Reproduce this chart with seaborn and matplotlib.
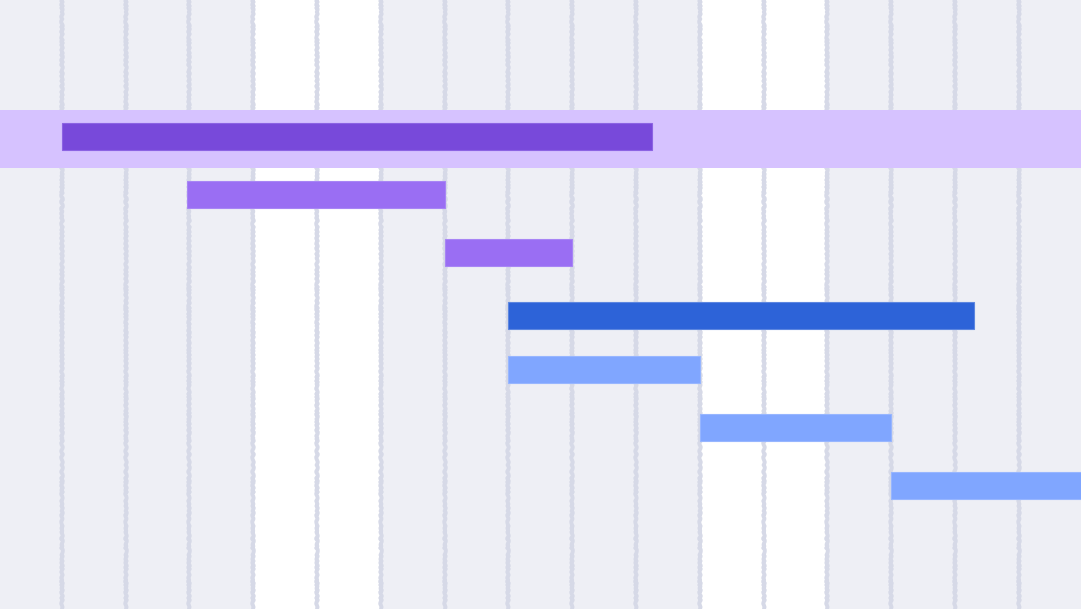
import pandas as pd
import matplotlib.pyplot as plt
import seaborn as sns

# Task data (day units, day 0 = first grid line)
TASKS = ["Phase 1", "Task 1a", "Task 1b", "Phase 2", "Task 2a", "Task 2b", "Task 2c"]
STARTS = [0, 1.97, 6, 7, 7, 10, 13]
ENDS = [9.25, 6, 8, 14.3, 10, 13, 16.2]
ROWS = [0, 1, 2, 3.08, 4, 5, 6]
COLORS = ["#7849DA", "#9A6EF3", "#9A6EF3", "#2D63D8", "#80A6FF", "#80A6FF", "#80A6FF"]
EDGES = ["#8C63E3", "#A885F5", "#A885F5", "#5C86E0", "#97B6FF", "#97B6FF", "#97B6FF"]
WEEKEND_DAYS = [3, 4, 10, 11]
GRID_DAYS = list(range(0, 16))
SELECTED_ROW = 0

BG = "#EEEFF5"
sns.set_theme(style="white", rc={"axes.facecolor": BG, "figure.facecolor": BG})

df = pd.DataFrame({"task": TASKS, "start": STARTS, "end": ENDS, "row": ROWS,
                   "color": COLORS, "edge": EDGES})
df["duration"] = df["end"] - df["start"]

DAY_PX = 63.8
ROW_PX = 58.2

fig = plt.figure(figsize=(10.81, 6.09), dpi=100)
ax = fig.add_axes([0, 0, 1, 1])

# weekends
for d in WEEKEND_DAYS:
    ax.axvspan(d, d + 1, color="white", lw=0, zorder=0)

# sketchy day lines
for d in GRID_DAYS:
    ln = ax.axvline(d, color="#D6D9E7", lw=2.8, zorder=1)
    ln.set_sketch_params(scale=0.8, length=6, randomness=3)

# selected row band
ax.axhspan(SELECTED_ROW - 0.455, SELECTED_ROW + 0.54, color="#D6C2FF", lw=0, zorder=2)

ax.barh(df["row"], df["duration"], left=df["start"], height=27 / ROW_PX,
        color=df["color"], edgecolor=df["edge"], linewidth=0.8, zorder=3)

ax.set_xlim(-61.7 / DAY_PX, (1081 - 61.7) / DAY_PX)
ax.set_ylim((609 - 136.5) / ROW_PX, -136.5 / ROW_PX)
ax.axis("off")

fig.savefig("out.png", dpi=100, facecolor=BG)
